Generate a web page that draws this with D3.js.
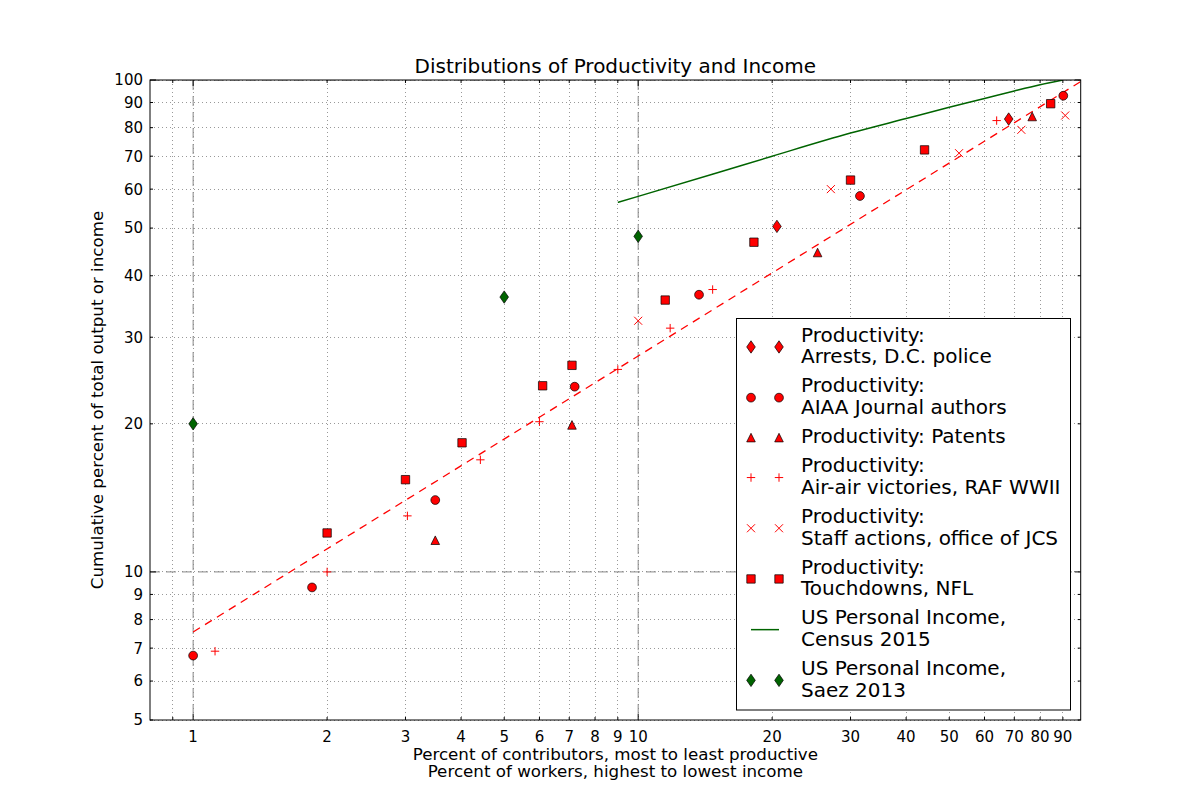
<!DOCTYPE html>
<html>
<head>
<meta charset="utf-8">
<script src="https://cdn.jsdelivr.net/npm/d3@7"></script>
<style>
  body { margin: 0; background: #fff; }
  svg { font-family: "DejaVu Sans", sans-serif; }
</style>
</head>
<body>
<div id="chart"></div>
<script>
// data: [percent of contributors, cumulative percent]
var arrests = [[20.5, 50.4], [68, 83.3]];
var aiaa = [[1, 6.76], [1.85, 9.3], [3.5, 14.0], [7.2, 23.8], [13.7, 36.6], [31.5, 58.1], [90.2, 92.9]];
var patents = [[3.5, 11.6], [7.1, 19.9], [25.3, 44.6], [76.8, 84.3]];
var raf = [[1.12, 6.9], [2, 10], [3.03, 13], [4.42, 16.9], [6, 20.2], [9, 25.8], [11.8, 31.3], [14.7, 37.5], [63.9, 82.7]];
var jcs = [[10, 32.4], [27.1, 60], [52.6, 71], [72.6, 79.2], [91.1, 84.7]];
var touchdowns = [[2, 12], [3, 15.4], [4.02, 18.3], [6.1, 23.9], [7.1, 26.3], [11.5, 35.7], [18.2, 46.8], [30, 62.6], [44, 72.1], [84.5, 89.5]];
var census = [[9, 56.4], [10, 58], [15, 64.7], [20, 70], [30, 78], [40, 83.5], [50, 88], [60, 91.7], [70, 95], [80, 97.8], [90, 100]];
var saez = [[1, 20], [5, 36.2], [10, 48.1]];
var trend = [[1, 7.55], [100, 100]];

var xMajor = [1, 10];
var xMinor = [0.9, 2, 3, 4, 5, 6, 7, 8, 9, 20, 30, 40, 50, 60, 70, 80, 90];
var xLabels = [1, 2, 3, 4, 5, 6, 7, 8, 9, 10, 20, 30, 40, 50, 60, 70, 80, 90];
var yMajor = [10, 100];
var yMinor = [5, 6, 7, 8, 9, 20, 30, 40, 50, 60, 70, 80, 90];
var yLabels = [5, 6, 7, 8, 9, 10, 20, 30, 40, 50, 60, 70, 80, 90, 100];

var legendItems = [
  {lines: ["Productivity:", "Arrests, D.C. police"], mark: "thin", color: "red"},
  {lines: ["Productivity:", "AIAA Journal authors"], mark: "circle", color: "red"},
  {lines: ["Productivity: Patents"], mark: "tri", color: "red"},
  {lines: ["Productivity:", "Air-air victories, RAF WWII"], mark: "plus", color: "red"},
  {lines: ["Productivity:", "Staff actions, office of JCS"], mark: "x", color: "red"},
  {lines: ["Productivity:", "Touchdowns, NFL"], mark: "square", color: "red"},
  {lines: ["US Personal Income,", "Census 2015"], mark: "line", color: "#006400"},
  {lines: ["US Personal Income,", "Saez 2013"], mark: "thin", color: "#006400"}
];

(function() {
  var width = 1200,
      height = 800;
  var pLeft = 150, pRight = 1080.7, pTop = 80, pBottom = 720;

  var svg = d3.select("#chart")
    .append("svg")
    .attr("width", width)
    .attr("height", height);

  var x = d3.scaleLog().domain([0.8, 98.7]).range([pLeft, pRight]);
  var y = d3.scaleLog().domain([5, 100]).range([pBottom, pTop]);

  // marker shapes
  function markPath(type) {
    if (type == "thin") return "M0,-6.2L4.3,0L0,6.2L-4.3,0Z";
    if (type == "circle") return "M4.4,0A4.4,4.4 0 1,1 -4.4,0A4.4,4.4 0 1,1 4.4,0Z";
    if (type == "square") return "M-4.2,-4.2H4.2V4.2H-4.2Z";
    if (type == "tri") return "M0,-4.3L4.3,4.3L-4.3,4.3Z";
    if (type == "plus") return "M-4.2,0H4.2M0,-4.2V4.2";
    if (type == "x") return "M-4,-4L4,4M-4,4L4,-4";
  }
  function styleMark(sel, type, color) {
    if (type == "plus" || type == "x") {
      sel.attr("fill", "none").attr("stroke", color).attr("stroke-width", 1);
    } else {
      sel.attr("fill", color).attr("stroke", "#000").attr("stroke-width", 0.7);
    }
  }

  svg.append("clipPath").attr("id", "clip")
    .append("rect")
    .attr("x", pLeft).attr("y", pTop)
    .attr("width", pRight - pLeft).attr("height", pBottom - pTop);

  // grid
  var grid = svg.append("g");
  grid.selectAll(".gx")
    .data(xMajor.concat(xMinor))
    .enter().append("line")
    .attr("x1", function(d) { return x(d); })
    .attr("x2", function(d) { return x(d); })
    .attr("y1", pTop).attr("y2", pBottom);
  grid.selectAll(".gy")
    .data(yMajor.concat(yMinor))
    .enter().append("line")
    .attr("y1", function(d) { return y(d); })
    .attr("y2", function(d) { return y(d); })
    .attr("x1", pLeft).attr("x2", pRight);
  grid.selectAll("line")
    .attr("stroke", "#999")
    .attr("stroke-width", 1)
    .attr("stroke-dasharray", "1,3")
    .attr("shape-rendering", "crispEdges");

  var plot = svg.append("g").attr("clip-path", "url(#clip)");

  // reference dashed lines
  [1, 10].forEach(function(v) {
    plot.append("line")
      .attr("x1", x(v)).attr("x2", x(v))
      .attr("y1", pTop).attr("y2", pBottom);
  });
  [10, 100].forEach(function(v) {
    plot.append("line")
      .attr("x1", pLeft).attr("x2", pRight)
      .attr("y1", y(v)).attr("y2", y(v));
  });
  plot.selectAll("line")
    .attr("stroke", "#888")
    .attr("stroke-width", 1)
    .attr("stroke-dasharray", "10,6");

  var line = d3.line()
    .x(function(d) { return x(d[0]); })
    .y(function(d) { return y(d[1]); });

  plot.append("path")
    .datum(trend)
    .attr("d", line)
    .attr("fill", "none")
    .attr("stroke", "red")
    .attr("stroke-width", 1.3)
    .attr("stroke-dasharray", "8,6");

  plot.append("path")
    .datum(census)
    .attr("d", line.curve(d3.curveMonotoneX))
    .attr("fill", "none")
    .attr("stroke", "#006400")
    .attr("stroke-width", 1.5);

  var series = [
    {data: arrests, mark: "thin", color: "red"},
    {data: aiaa, mark: "circle", color: "red"},
    {data: patents, mark: "tri", color: "red"},
    {data: raf, mark: "plus", color: "red"},
    {data: jcs, mark: "x", color: "red"},
    {data: touchdowns, mark: "square", color: "red"},
    {data: saez, mark: "thin", color: "#006400"}
  ];

  series.forEach(function(s) {
    var pts = svg.append("g").selectAll("path")
      .data(s.data)
      .enter().append("path")
      .attr("d", markPath(s.mark))
      .attr("transform", function(d) {
        return "translate(" + x(d[0]) + "," + y(d[1]) + ")";
      });
    styleMark(pts, s.mark, s.color);
  });

  // frame and ticks
  var axes = svg.append("g").attr("stroke", "#000").attr("stroke-width", 1);
  axes.append("rect")
    .attr("x", pLeft).attr("y", pTop)
    .attr("width", pRight - pLeft).attr("height", pBottom - pTop)
    .attr("fill", "none");

  function tickLen(major, d) { return major.indexOf(d) >= 0 ? 6 : 3; }

  xMajor.concat(xMinor).forEach(function(d) {
    var len = tickLen(xMajor, d);
    axes.append("line").attr("x1", x(d)).attr("x2", x(d)).attr("y1", pBottom).attr("y2", pBottom - len);
    axes.append("line").attr("x1", x(d)).attr("x2", x(d)).attr("y1", pTop).attr("y2", pTop + len);
  });
  yMajor.concat(yMinor).forEach(function(d) {
    var len = tickLen(yMajor, d);
    axes.append("line").attr("y1", y(d)).attr("y2", y(d)).attr("x1", pLeft).attr("x2", pLeft + len);
    axes.append("line").attr("y1", y(d)).attr("y2", y(d)).attr("x1", pRight).attr("x2", pRight - len);
  });

  svg.append("g").selectAll("text")
    .data(xLabels)
    .enter().append("text")
    .attr("x", function(d) { return x(d); })
    .attr("y", 742)
    .attr("text-anchor", "middle")
    .attr("font-size", "15px")
    .text(function(d) { return d; });

  svg.append("g").selectAll("text")
    .data(yLabels)
    .enter().append("text")
    .attr("x", 143)
    .attr("y", function(d) { return y(d); })
    .attr("dy", "0.36em")
    .attr("text-anchor", "end")
    .attr("font-size", "15px")
    .text(function(d) { return d; });

  svg.append("text")
    .attr("x", (pLeft + pRight) / 2)
    .attr("y", 73)
    .attr("text-anchor", "middle")
    .attr("font-size", "20px")
    .text("Distributions of Productivity and Income");

  svg.append("text")
    .attr("x", (pLeft + pRight) / 2)
    .attr("y", 760)
    .attr("text-anchor", "middle")
    .attr("font-size", "16.7px")
    .text("Percent of contributors, most to least productive");
  svg.append("text")
    .attr("x", (pLeft + pRight) / 2)
    .attr("y", 777)
    .attr("text-anchor", "middle")
    .attr("font-size", "16.7px")
    .text("Percent of workers, highest to lowest income");

  svg.append("text")
    .attr("transform", "translate(103," + (pTop + pBottom) / 2 + ") rotate(-90)")
    .attr("text-anchor", "middle")
    .attr("font-size", "16.7px")
    .text("Cumulative percent of total output or income");

  // legend
  var legend = svg.append("g");
  legend.append("rect")
    .attr("x", 736.5).attr("y", 318.5)
    .attr("width", 334).attr("height", 391.5)
    .attr("fill", "#fff")
    .attr("stroke", "#000")
    .attr("stroke-width", 1);

  var base = 341.7;
  legendItems.forEach(function(item) {
    var first = base;
    item.lines.forEach(function(t, i) {
      legend.append("text")
        .attr("x", 801)
        .attr("y", base + i * 21.5)
        .attr("font-size", "20px")
        .text(t);
    });
    var last = base + (item.lines.length - 1) * 21.5;
    var my = (first + last) / 2 - 5.5;
    if (item.mark == "line") {
      legend.append("line")
        .attr("x1", 751).attr("x2", 779)
        .attr("y1", my).attr("y2", my)
        .attr("stroke", item.color)
        .attr("stroke-width", 1.5);
    } else {
      [751, 779].forEach(function(mx) {
        var m = legend.append("path")
          .attr("d", markPath(item.mark))
          .attr("transform", "translate(" + mx + "," + my + ")");
        styleMark(m, item.mark, item.color);
      });
    }
    base += item.lines.length * 21.5 + 7.7;
  });
})();
</script>
</body>
</html>
